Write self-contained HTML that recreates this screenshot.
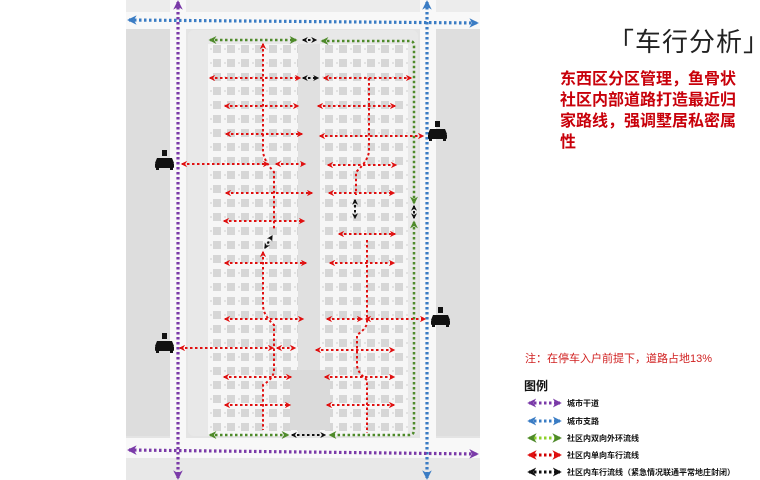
<!DOCTYPE html>
<html><head><meta charset="utf-8"><style>
body{margin:0;width:760px;height:480px;background:#fff;position:relative;overflow:hidden;font-family:"Liberation Sans","Noto Sans CJK SC",sans-serif}
.t{position:absolute;white-space:nowrap}
</style></head><body>
<svg width="760" height="480" style="position:absolute;left:0;top:0">
<defs>
<pattern id="h" width="14" height="14" patternUnits="userSpaceOnUse">
<rect width="14" height="14" fill="#f6f6f6"/><rect x="3" y="3" width="8" height="8" fill="#d6d6d6"/><rect x="0" y="6" width="2" height="2" fill="#e2e2e2"/>
</pattern>
<marker id="mR" viewBox="0 0 10 10" refX="8" refY="5" markerWidth="3.2" markerHeight="3.2" orient="auto-start-reverse"><path d="M0 0L10 5L0 10L3 5Z" fill="#e01010"/></marker>
<marker id="mG" viewBox="0 0 10 10" refX="8" refY="5" markerWidth="3.2" markerHeight="3.2" orient="auto-start-reverse"><path d="M0 0L10 5L0 10L3 5Z" fill="#4e8a2a"/></marker>
<marker id="mK" viewBox="0 0 10 10" refX="8" refY="5" markerWidth="3" markerHeight="3" orient="auto-start-reverse"><path d="M0 0L10 5L0 10L3 5Z" fill="#111"/></marker>
<marker id="mB" viewBox="0 0 10 10" refX="8" refY="5" markerWidth="3" markerHeight="3" orient="auto-start-reverse"><path d="M0 0L10 5L0 10L3 5Z" fill="#3a7cc4"/></marker>
<marker id="mP" viewBox="0 0 10 10" refX="8" refY="5" markerWidth="3" markerHeight="3" orient="auto-start-reverse"><path d="M0 0L10 5L0 10L3 5Z" fill="#7a3aa8"/></marker>
</defs>
<rect x="126" y="0" width="354" height="480" fill="#e4e4e4"/>
<rect x="126" y="0" width="354" height="12" fill="#ececec"/>
<rect x="126" y="28" width="46" height="408" fill="#dddddd"/>
<rect x="436" y="28" width="44" height="408" fill="#dedede"/>
<rect x="126" y="12" width="354" height="17" fill="#f8f8f8"/>
<rect x="126" y="438" width="354" height="20" fill="#f8f8f8"/>
<rect x="170" y="0" width="16" height="480" fill="#f8f8f8"/>
<rect x="420" y="0" width="16" height="480" fill="#f8f8f8"/>
<rect x="126" y="458" width="354" height="22" fill="#e8e8e8"/>
<rect x="188" y="30" width="230" height="406" rx="6" fill="#e8e8e8"/>
<rect x="208" y="44" width="200" height="392" fill="url(#h)"/>
<rect x="298" y="44" width="22" height="392" fill="#e0e0e0"/>
<rect x="290" y="370" width="40" height="60" fill="#dadada"/>
<g fill="none" stroke-width="3" stroke-dasharray="2.5 2.5">
<line x1="129" y1="20" x2="477" y2="23" stroke="#3a7cc4" marker-start="url(#mB)" marker-end="url(#mB)" stroke-width="3.2"/>
<line x1="427" y1="2" x2="427" y2="478" stroke="#3a7cc4" marker-start="url(#mB)" marker-end="url(#mB)" stroke-width="3.2"/>
<line x1="178" y1="2" x2="178" y2="478" stroke="#7a3aa8" marker-start="url(#mP)" marker-end="url(#mP)" stroke-width="3.2"/>
<line x1="129" y1="450" x2="477" y2="454" stroke="#7a3aa8" marker-start="url(#mP)" marker-end="url(#mP)" stroke-width="3.2"/>
<g stroke="#4e8a2a" stroke-width="2.5">
<line x1="210" y1="40" x2="296" y2="40" marker-start="url(#mG)" marker-end="url(#mG)"/>
<path d="M322 41 H410 Q414 41 414 46 V203" marker-start="url(#mG)" marker-end="url(#mG)"/>
<path d="M414 222 V430 Q414 435 409 435 H330" marker-start="url(#mG)" marker-end="url(#mG)"/>
<line x1="210" y1="435" x2="288" y2="435" marker-start="url(#mG)" marker-end="url(#mG)"/>
</g>
<g stroke="#111" stroke-width="2">
<line x1="303" y1="40" x2="316" y2="40" marker-start="url(#mK)" marker-end="url(#mK)"/>
<line x1="303" y1="78" x2="318" y2="78" marker-start="url(#mK)" marker-end="url(#mK)"/>
<line x1="292" y1="435" x2="325" y2="435" marker-start="url(#mK)" marker-end="url(#mK)"/>
<line x1="355" y1="200" x2="355" y2="218" marker-start="url(#mK)" marker-end="url(#mK)"/>
<line x1="265" y1="248" x2="272" y2="236" marker-start="url(#mK)" marker-end="url(#mK)"/>
<line x1="414" y1="206" x2="414" y2="218" marker-start="url(#mK)" marker-end="url(#mK)"/>
</g>
<g stroke="#e01010" stroke-width="2">
<path d="M263 44 V150 Q263 160 274 172 V230" marker-start="url(#mR)"/>
<path d="M369 78 V150 Q369 160 356 172 V195"/>
<path d="M263 252 V305 Q263 315 274 325 V370 Q274 378 263 385 V430" marker-start="url(#mR)"/>
<path d="M367 240 V322 Q367 328 357 335 V365 Q357 372 367 380 V433"/>
<line x1="210" y1="78" x2="300" y2="78" marker-start="url(#mR)" marker-end="url(#mR)"/>
<line x1="324" y1="78" x2="411" y2="78" marker-start="url(#mR)" marker-end="url(#mR)"/>
<line x1="225" y1="106" x2="298" y2="106" marker-start="url(#mR)" marker-end="url(#mR)"/>
<line x1="318" y1="106" x2="395" y2="106" marker-start="url(#mR)" marker-end="url(#mR)"/>
<line x1="226" y1="134" x2="302" y2="134" marker-start="url(#mR)" marker-end="url(#mR)"/>
<line x1="320" y1="136" x2="423" y2="136" marker-start="url(#mR)" marker-end="url(#mR)"/>
<line x1="182" y1="164" x2="268" y2="164" marker-start="url(#mR)" marker-end="url(#mR)"/>
<line x1="276" y1="164" x2="305" y2="164" marker-start="url(#mR)" marker-end="url(#mR)"/>
<line x1="328" y1="165" x2="396" y2="165" marker-start="url(#mR)" marker-end="url(#mR)"/>
<line x1="226" y1="193" x2="312" y2="193" marker-start="url(#mR)" marker-end="url(#mR)"/>
<line x1="329" y1="193" x2="394" y2="193" marker-start="url(#mR)" marker-end="url(#mR)"/>
<line x1="224" y1="221" x2="304" y2="221" marker-start="url(#mR)" marker-end="url(#mR)"/>
<line x1="339" y1="234" x2="395" y2="234" marker-start="url(#mR)" marker-end="url(#mR)"/>
<line x1="225" y1="263" x2="306" y2="263" marker-start="url(#mR)" marker-end="url(#mR)"/>
<line x1="330" y1="263" x2="394" y2="263" marker-start="url(#mR)" marker-end="url(#mR)"/>
<line x1="225" y1="319" x2="303" y2="319" marker-start="url(#mR)" marker-end="url(#mR)"/>
<line x1="327" y1="319" x2="362" y2="319" marker-start="url(#mR)" marker-end="url(#mR)"/>
<line x1="366" y1="319" x2="425" y2="319" marker-start="url(#mR)" marker-end="url(#mR)"/>
<line x1="180" y1="348" x2="273" y2="348" marker-start="url(#mR)" marker-end="url(#mR)"/>
<line x1="277" y1="348" x2="295" y2="348" marker-start="url(#mR)" marker-end="url(#mR)"/>
<line x1="316" y1="350" x2="394" y2="350" marker-start="url(#mR)" marker-end="url(#mR)"/>
<line x1="224" y1="377" x2="291" y2="377" marker-start="url(#mR)" marker-end="url(#mR)"/>
<line x1="325" y1="377" x2="394" y2="377" marker-start="url(#mR)" marker-end="url(#mR)"/>
<line x1="225" y1="405" x2="290" y2="405" marker-start="url(#mR)" marker-end="url(#mR)"/>
<line x1="327" y1="405" x2="394" y2="405" marker-start="url(#mR)" marker-end="url(#mR)"/>
</g>
</g>
<g fill="#111">
<g transform="translate(165,163)"><rect x="-3" y="-13" width="5" height="6"/><path d="M-8 -5 H7 L9 0 H-10Z"/><rect x="-10" y="0" width="19" height="5" rx="1"/><rect x="-9" y="5" width="3" height="2"/><rect x="5" y="5" width="3" height="2"/></g>
<g transform="translate(165,346)"><rect x="-3" y="-13" width="5" height="6"/><path d="M-8 -5 H7 L9 0 H-10Z"/><rect x="-10" y="0" width="19" height="5" rx="1"/><rect x="-9" y="5" width="3" height="2"/><rect x="5" y="5" width="3" height="2"/></g>
<g transform="translate(438,134)"><rect x="-3" y="-13" width="5" height="6"/><path d="M-8 -5 H7 L9 0 H-10Z"/><rect x="-10" y="0" width="19" height="5" rx="1"/><rect x="-9" y="5" width="3" height="2"/><rect x="5" y="5" width="3" height="2"/></g>
<g transform="translate(441,320)"><rect x="-3" y="-13" width="5" height="6"/><path d="M-8 -5 H7 L9 0 H-10Z"/><rect x="-10" y="0" width="19" height="5" rx="1"/><rect x="-9" y="5" width="3" height="2"/><rect x="5" y="5" width="3" height="2"/></g>
</g>
<g fill="none" stroke-width="3" stroke-dasharray="2.5 2.5">
<line x1="529" y1="403" x2="560" y2="403" stroke="#7a3aa8" marker-start="url(#mP)" marker-end="url(#mP)"/>
<line x1="529" y1="421" x2="560" y2="421" stroke="#3a7cc4" marker-start="url(#mB)" marker-end="url(#mB)"/>
<line x1="529" y1="438" x2="560" y2="438" stroke="#8ed12a" marker-start="url(#mG)" marker-end="url(#mG)"/>
<line x1="529" y1="455" x2="560" y2="455" stroke="#d00000" marker-start="url(#mR)" marker-end="url(#mR)"/>
<line x1="529" y1="472" x2="560" y2="472" stroke="#111" marker-start="url(#mK)" marker-end="url(#mK)"/>
</g>
</svg>
<div class="t" style="left:608px;top:22px;font-size:26px;color:#222;letter-spacing:1px">「车行分析」</div>
<div class="t" style="left:560px;top:69px;font-size:16px;line-height:21px;font-weight:bold;color:#c8000a;white-space:normal;width:182px">东西区分区管理，鱼骨状社区内部道路打造最近归家路线，强调墅居私密属性</div>
<div class="t" style="left:525px;top:350px;font-size:11px;color:#d02020">注：在停车入户前提下，道路占地13%</div>
<div class="t" style="left:524px;top:377px;font-size:12px;font-weight:bold;color:#111">图例</div>
<div class="t" style="left:567px;top:398px;font-size:8px;font-weight:bold;color:#111">城市干道</div>
<div class="t" style="left:567px;top:416px;font-size:8px;font-weight:bold;color:#111">城市支路</div>
<div class="t" style="left:567px;top:433px;font-size:8px;font-weight:bold;color:#111">社区内双向外环流线</div>
<div class="t" style="left:567px;top:450px;font-size:8px;font-weight:bold;color:#111">社区内单向车行流线</div>
<div class="t" style="left:567px;top:467px;font-size:8px;font-weight:bold;color:#111">社区内车行流线（紧急情况联通平常地庄封闭）</div>
</body></html>
